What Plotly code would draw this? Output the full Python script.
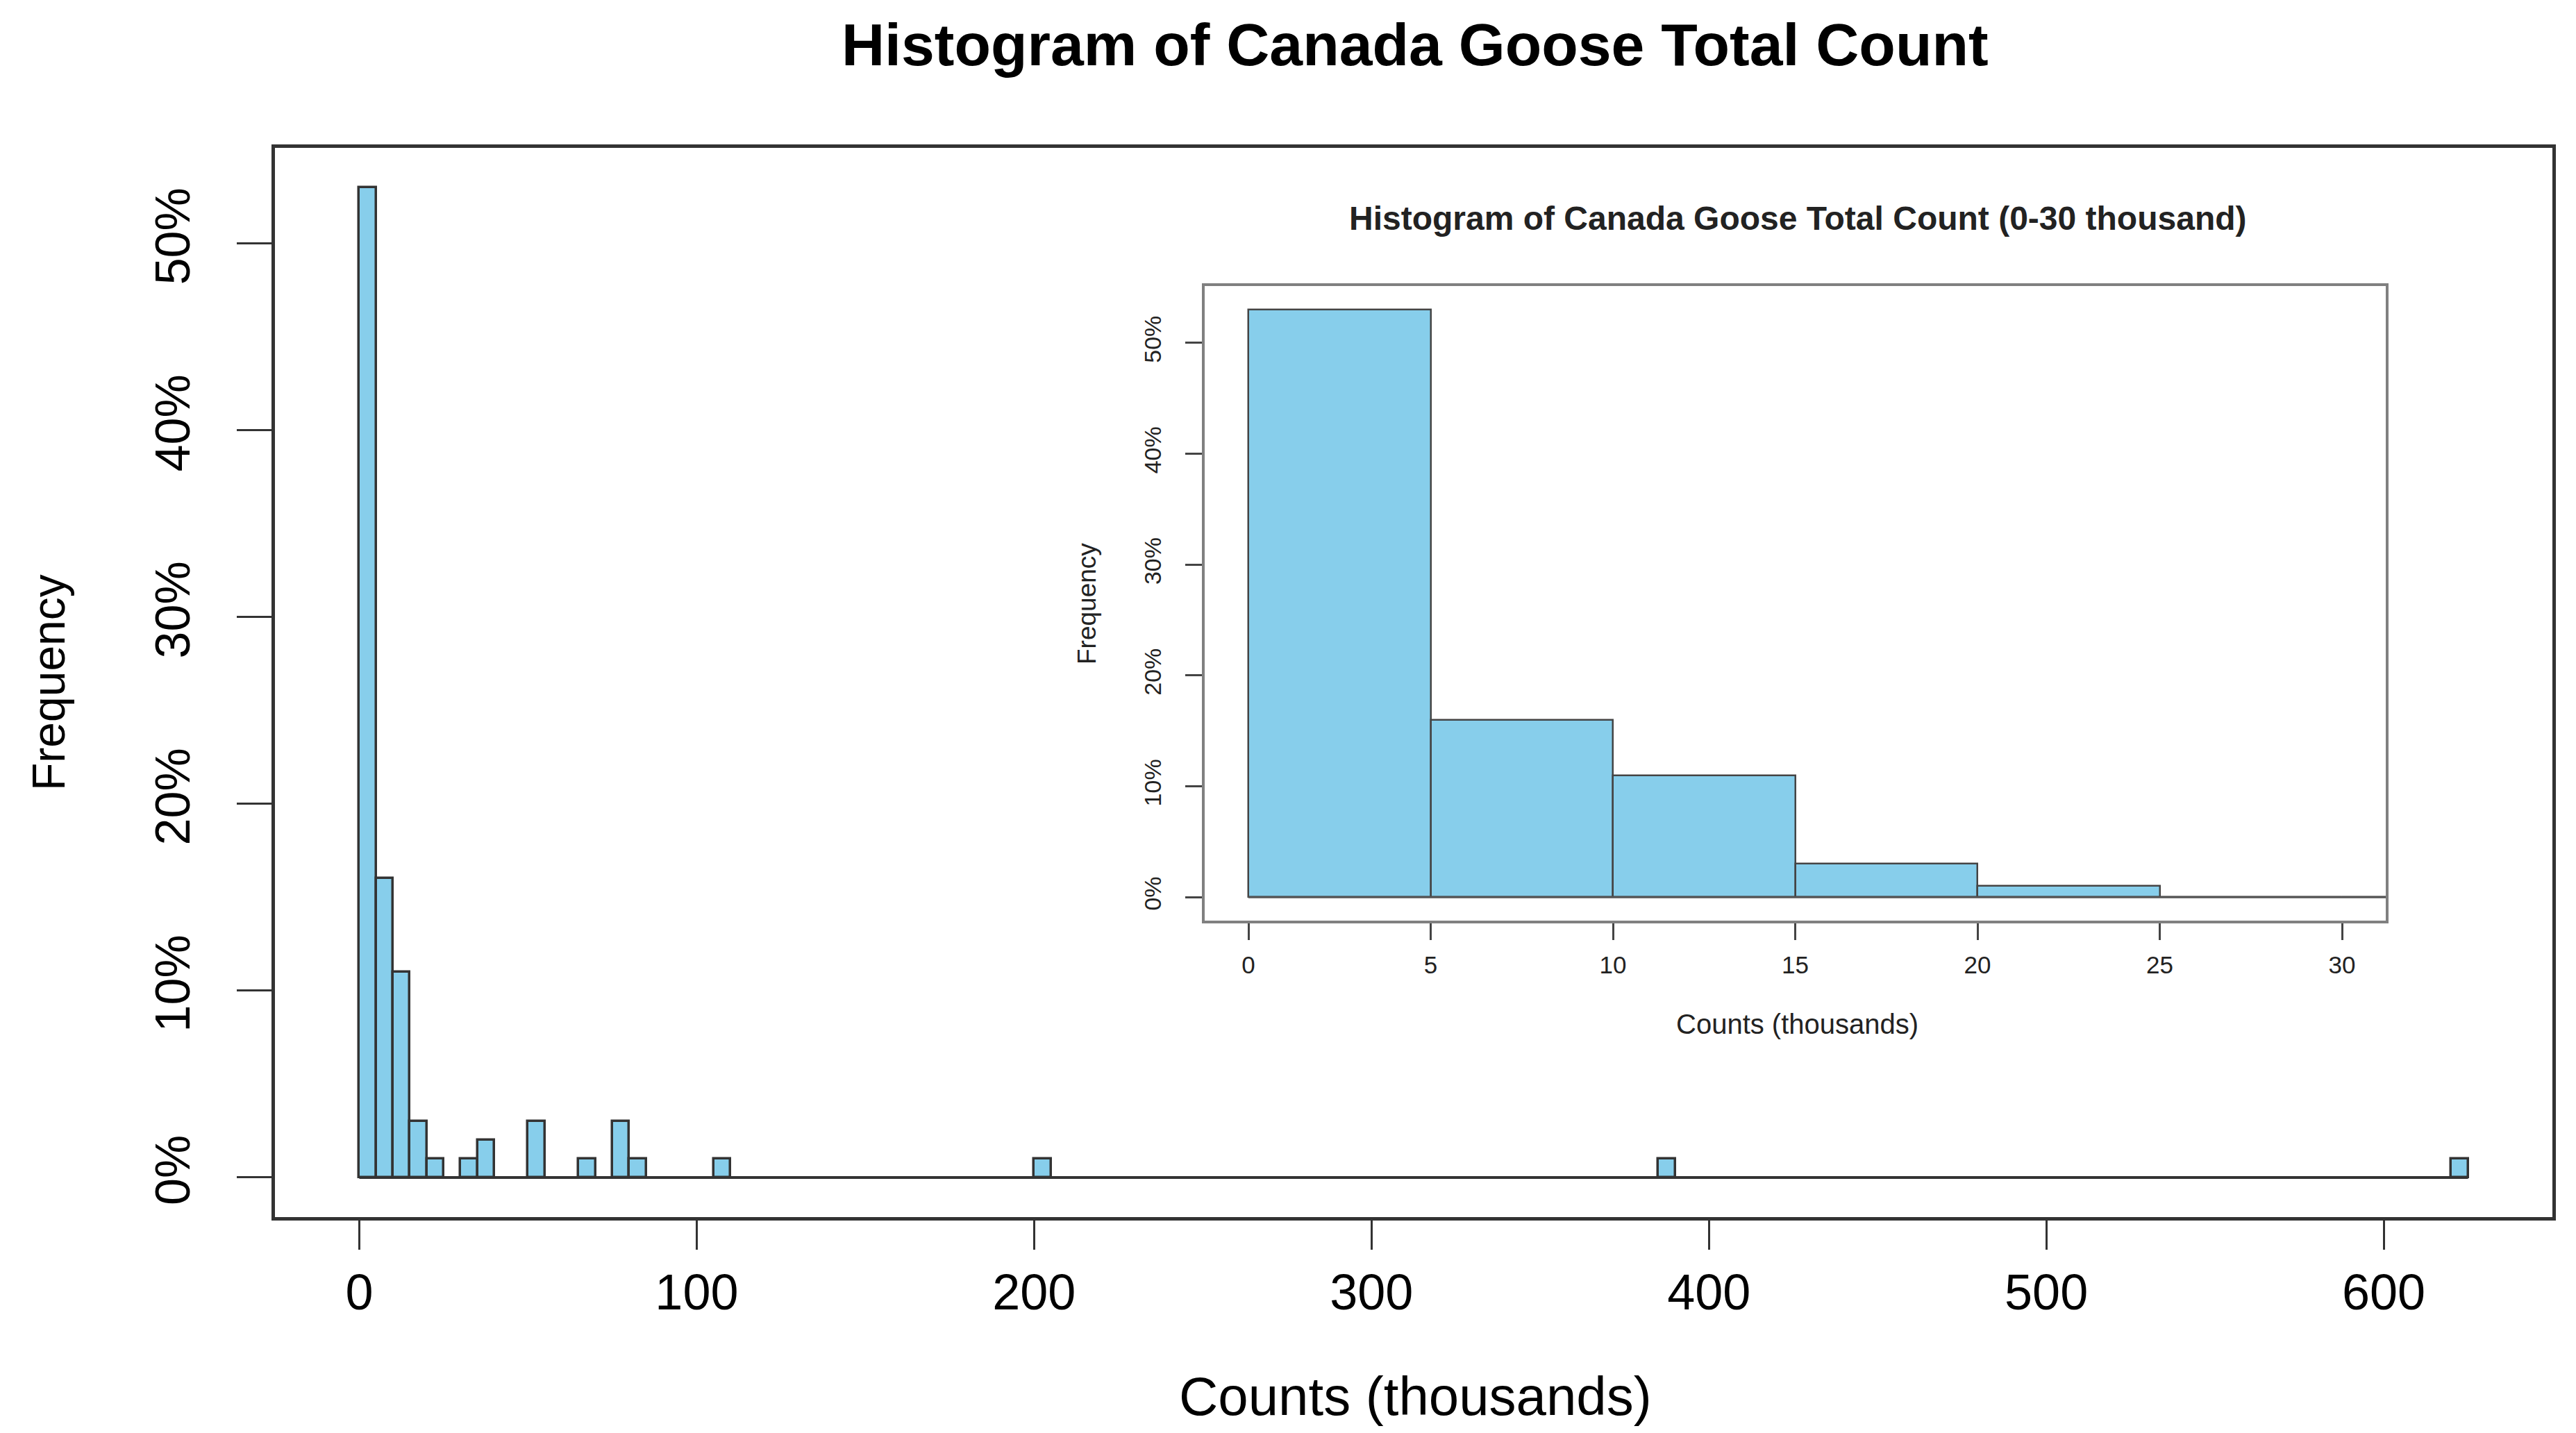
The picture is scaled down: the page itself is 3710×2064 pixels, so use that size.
import plotly.graph_objects as go

# Histogram data, counts in thousands, bin width 5
bin_width = 5
main_bin_left = [0, 5, 10, 15, 20, 30, 35, 50, 65, 75, 80, 105, 200, 385, 620]
main_pct = [53, 16, 11, 3, 1, 1, 2, 3, 1, 3, 1, 1, 1, 1, 1]

inset_bin_left = [0, 5, 10, 15, 20, 25, 30]
inset_pct = [53, 16, 11, 3, 1, 0, 0]

main_xticks = [0, 100, 200, 300, 400, 500, 600]
inset_xticks = [0, 5, 10, 15, 20, 25, 30]
pct_ticks = [0, 10, 20, 30, 40, 50]
pct_labels = [f"{v}%" for v in pct_ticks]

FILL = "#87CEEB"
FONT = "Liberation Sans, Arial, sans-serif"

fig = go.Figure()

# main histogram
fig.add_trace(go.Bar(
    x=[b + bin_width / 2 for b in main_bin_left], y=main_pct, width=bin_width,
    marker=dict(color=FILL, line=dict(color="#333333", width=3.5)),
    xaxis="x", yaxis="y", showlegend=False,
))
fig.add_trace(go.Scatter(
    x=[main_bin_left[0], main_bin_left[-1] + bin_width], y=[0, 0], mode="lines",
    line=dict(color="#333333", width=4), xaxis="x", yaxis="y", showlegend=False,
))

# inset histogram (0-30 thousand)
fig.add_trace(go.Bar(
    x=[b + bin_width / 2 for b in inset_bin_left], y=inset_pct, width=bin_width,
    marker=dict(color=FILL, line=dict(color="#444444", width=2.5)),
    xaxis="x2", yaxis="y2", showlegend=False,
))
fig.add_trace(go.Scatter(
    x=[inset_bin_left[0], inset_bin_left[-1] + bin_width], y=[0, 0], mode="lines",
    line=dict(color="#555555", width=3), xaxis="x2", yaxis="y2", showlegend=False,
))

W, H = 3710, 2064

fig.update_layout(
    width=W, height=H,
    margin=dict(l=0, r=0, t=0, b=0),
    paper_bgcolor="white", plot_bgcolor="white",
    font=dict(family=FONT, color="black"),
    bargap=0,
    xaxis=dict(
        domain=[388 / W, 3668 / W], range=[-25, 650],
        tickvals=main_xticks, ticks="outside", ticklen=42, tickwidth=3, tickcolor="#333",
        ticklabelstandoff=0, tickfont=dict(size=72),
        showline=True, mirror=True, linecolor="#333", linewidth=5,
        showgrid=False, zeroline=False, fixedrange=True,
    ),
    yaxis=dict(
        domain=[1 - 1745 / H, 1 - 205 / H], range=[-2.12, 55.12],
        tickvals=pct_ticks, ticktext=pct_labels, tickangle=-90,
        ticks="outside", ticklen=50, tickwidth=3, tickcolor="#333",
        ticklabelstandoff=40, tickfont=dict(size=70),
        showline=True, mirror=True, linecolor="#333", linewidth=5,
        showgrid=False, zeroline=False, fixedrange=True,
    ),
    xaxis2=dict(
        domain=[1727 / W, 3428 / W], range=[-1.2, 31.2], anchor="y2",
        tickvals=inset_xticks, ticks="outside", ticklen=24, tickwidth=2.5, tickcolor="#444",
        ticklabelstandoff=6, tickfont=dict(size=35, color="#222"),
        showline=True, mirror=True, linecolor="#808080", linewidth=3.5,
        showgrid=False, zeroline=False, fixedrange=True,
    ),
    yaxis2=dict(
        domain=[1 - 1318 / H, 1 - 404 / H], range=[-2.12, 55.12], anchor="x2",
        tickvals=pct_ticks, ticktext=pct_labels, tickangle=-90,
        ticks="outside", ticklen=24, tickwidth=2.5, tickcolor="#444",
        ticklabelstandoff=22, tickfont=dict(size=34, color="#222"),
        showline=True, mirror=True, linecolor="#808080", linewidth=3.5,
        showgrid=False, zeroline=False, fixedrange=True,
    ),
)

ann = [
    dict(text="Histogram of Canada Goose Total Count", x=2030 / W, y=1 - 56 / H,
         font=dict(size=86, weight="bold")),
    dict(text="Counts (thousands)", x=2030 / W, y=1 - 2003 / H, font=dict(size=78)),
    dict(text="Frequency", x=62 / W, y=1 - 975 / H, textangle=-90, font=dict(size=66)),
    dict(text="Histogram of Canada Goose Total Count (0-30 thousand)", x=2581 / W, y=1 - 307 / H,
         font=dict(size=48, weight="bold", color="#222")),
    dict(text="Counts (thousands)", x=2580 / W, y=1 - 1467 / H, font=dict(size=40, color="#222")),
    dict(text="Frequency", x=1557 / W, y=1 - 862 / H, textangle=-90, font=dict(size=37, color="#222")),
]
for a in ann:
    fig.add_annotation(xref="paper", yref="paper", xanchor="center", yanchor="middle",
                       showarrow=False, **a)

fig.write_html("out.html")
